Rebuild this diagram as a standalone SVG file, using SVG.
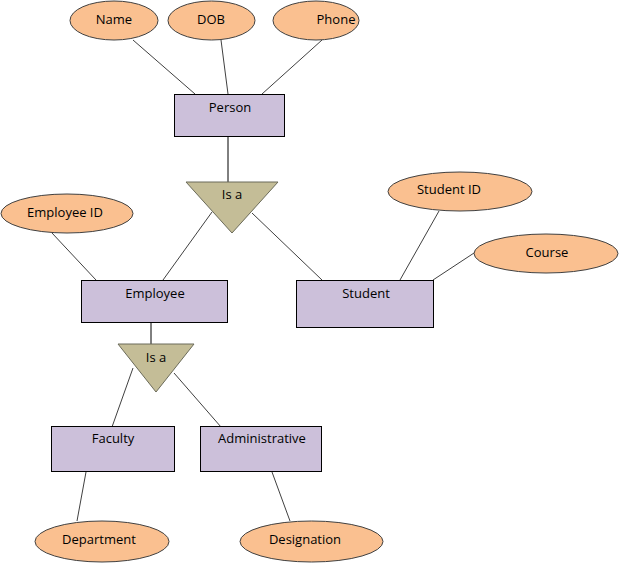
<svg xmlns="http://www.w3.org/2000/svg" width="633" height="583" viewBox="0 0 633 583">
<style>
.attr{fill:#fac090;stroke:#404040;stroke-width:1}
.ent{fill:#ccc0da;stroke:#000;stroke-width:1}
.isa{fill:#c4bd97;stroke:#6b6b5a;stroke-width:1}
.ln{stroke:#404040;stroke-width:1;fill:none}
text{font-family:"Open Sans","Liberation Sans",sans-serif;font-size:13px;fill:#000;text-anchor:middle}
</style>
<rect width="633" height="583" fill="#fff"/>
<g id="connectors">
<line class="ln" x1="133" y1="40" x2="195" y2="94"/>
<line class="ln" x1="221" y1="40" x2="228" y2="94"/>
<line class="ln" x1="322" y1="40" x2="262" y2="94"/>
<line class="ln" x1="228" y1="136" x2="228" y2="182" style="stroke:#000"/>
<line class="ln" x1="52" y1="233" x2="96" y2="280"/>
<line class="ln" x1="212" y1="212" x2="163" y2="280"/>
<line class="ln" x1="252" y1="213" x2="322" y2="280"/>
<line class="ln" x1="439" y1="211" x2="400" y2="280"/>
<line class="ln" x1="474" y1="253" x2="433" y2="280"/>
<line class="ln" x1="151" y1="322" x2="151" y2="344" style="stroke:#000"/>
<line class="ln" x1="133" y1="368" x2="112" y2="427"/>
<line class="ln" x1="174" y1="373" x2="221" y2="427"/>
<line class="ln" x1="86" y1="472" x2="77" y2="521"/>
<line class="ln" x1="272" y1="472" x2="290" y2="521"/>
</g>
<g id="name"><ellipse class="attr" cx="114" cy="20.5" rx="44" ry="19.5"/><text x="114" y="24">Name</text></g>
<g id="dob"><ellipse class="attr" cx="211.5" cy="20.5" rx="43.5" ry="19.5"/><text x="211" y="24">DOB</text></g>
<g id="phone"><ellipse class="attr" cx="316" cy="20.5" rx="43" ry="19.5"/><text x="336" y="24">Phone</text></g>
<g id="person"><rect class="ent" x="174.5" y="94.5" width="110" height="42"/><text x="230" y="112">Person</text></g>
<g id="isa1"><polygon class="isa" points="186,182 278,182 232,233"/><text x="232" y="199">Is a</text></g>
<g id="employeeid"><ellipse class="attr" cx="67" cy="213.5" rx="66" ry="19.5"/><text x="65" y="217">Employee ID</text></g>
<g id="employee"><rect class="ent" x="81.5" y="280.5" width="146" height="42"/><text x="155" y="298">Employee</text></g>
<g id="studentid"><ellipse class="attr" cx="460" cy="191.5" rx="72" ry="19.5"/><text x="449" y="194">Student ID</text></g>
<g id="course"><ellipse class="attr" cx="546" cy="253.5" rx="72" ry="19.5"/><text x="547" y="257">Course</text></g>
<g id="student"><rect class="ent" x="296.5" y="280.5" width="137" height="47"/><text x="366" y="298">Student</text></g>
<g id="isa2"><polygon class="isa" points="118,344 194,344 156,392"/><text x="156" y="362">Is a</text></g>
<g id="faculty"><rect class="ent" x="51.5" y="426.5" width="123" height="45"/><text x="113" y="443">Faculty</text></g>
<g id="administrative"><rect class="ent" x="200.5" y="426.5" width="121" height="45"/><text x="262" y="443">Administrative</text></g>
<g id="department"><ellipse class="attr" cx="102" cy="541.5" rx="67" ry="20.5"/><text x="99" y="544">Department</text></g>
<g id="designation"><ellipse class="attr" cx="311.5" cy="541.5" rx="71.5" ry="20.5"/><text x="305" y="544">Designation</text></g>
</svg>
